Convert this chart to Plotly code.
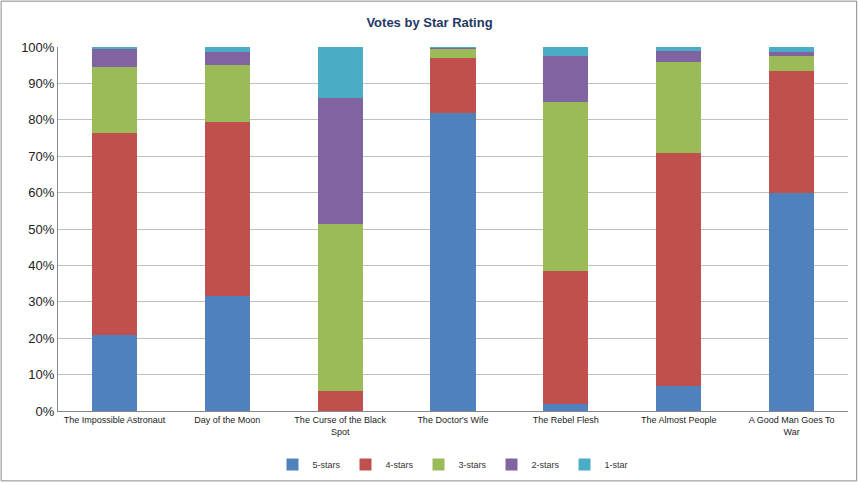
import plotly.graph_objects as go

episodes = ["The Impossible Astronaut", "Day of the Moon", "The Curse of the Black<br>Spot",
            "The Doctor's Wife", "The Rebel Flesh", "The Almost People", "A Good Man Goes To<br>War"]
five = [21, 31.5, 0, 82, 2, 7, 60]
four = [55.5, 48, 5.5, 15, 36.5, 64, 33.5]
three = [18, 15.5, 46, 2.5, 46.5, 25, 4]
two = [5, 3.5, 34.5, 0.3, 12.5, 3, 1]
one = [0.5, 1.5, 14, 0.2, 2.5, 1, 1.5]

series = [("5-stars", five, "#4F81BD"), ("4-stars", four, "#C0504D"),
          ("3-stars", three, "#9BBB59"), ("2-stars", two, "#8064A2"),
          ("1-star", one, "#4BACC6")]

fig = go.Figure()
for name, vals, col in series:
    fig.add_bar(x=episodes, y=[v / 100 for v in vals], name=name, marker_color=col,
                marker_line_width=0)

fig.update_layout(
    barmode="stack", bargap=0.6, width=859, height=483,
    paper_bgcolor="white", plot_bgcolor="white",
    font=dict(family="Liberation Sans", size=10, color="#333"),
    title=dict(text="<b>Votes by Star Rating</b>", x=0.5, xanchor="center", y=0.962,
               font=dict(size=13, color="#1F3864")),
    margin=dict(l=58, r=11, t=47, b=72, autoexpand=False),
    legend=dict(orientation="h", traceorder="normal", x=0.5, xanchor="center", y=-0.107,
                yanchor="top", font=dict(size=9), bgcolor="rgba(0,0,0,0)",
                itemwidth=30),
    shapes=[dict(type="rect", xref="paper", yref="paper", x0=-0.072, y0=-0.192, x1=1.011, y1=1.126,
                 line=dict(color="#888", width=1), layer="below")],
)
fig.update_yaxes(range=[0, 1], tickformat=".0%", dtick=0.1, showgrid=True, gridcolor="#BFBFBF",
                 tickfont=dict(size=13, family="Liberation Sans", color="#222"),
                 showline=True, linecolor="#888")
fig.update_xaxes(showline=True, linecolor="#888", tickfont=dict(size=9, color="#222"), tickangle=0)
fig.write_html("out.html", post_script="document.body.style.margin='0';",
               config={"displayModeBar": False})
